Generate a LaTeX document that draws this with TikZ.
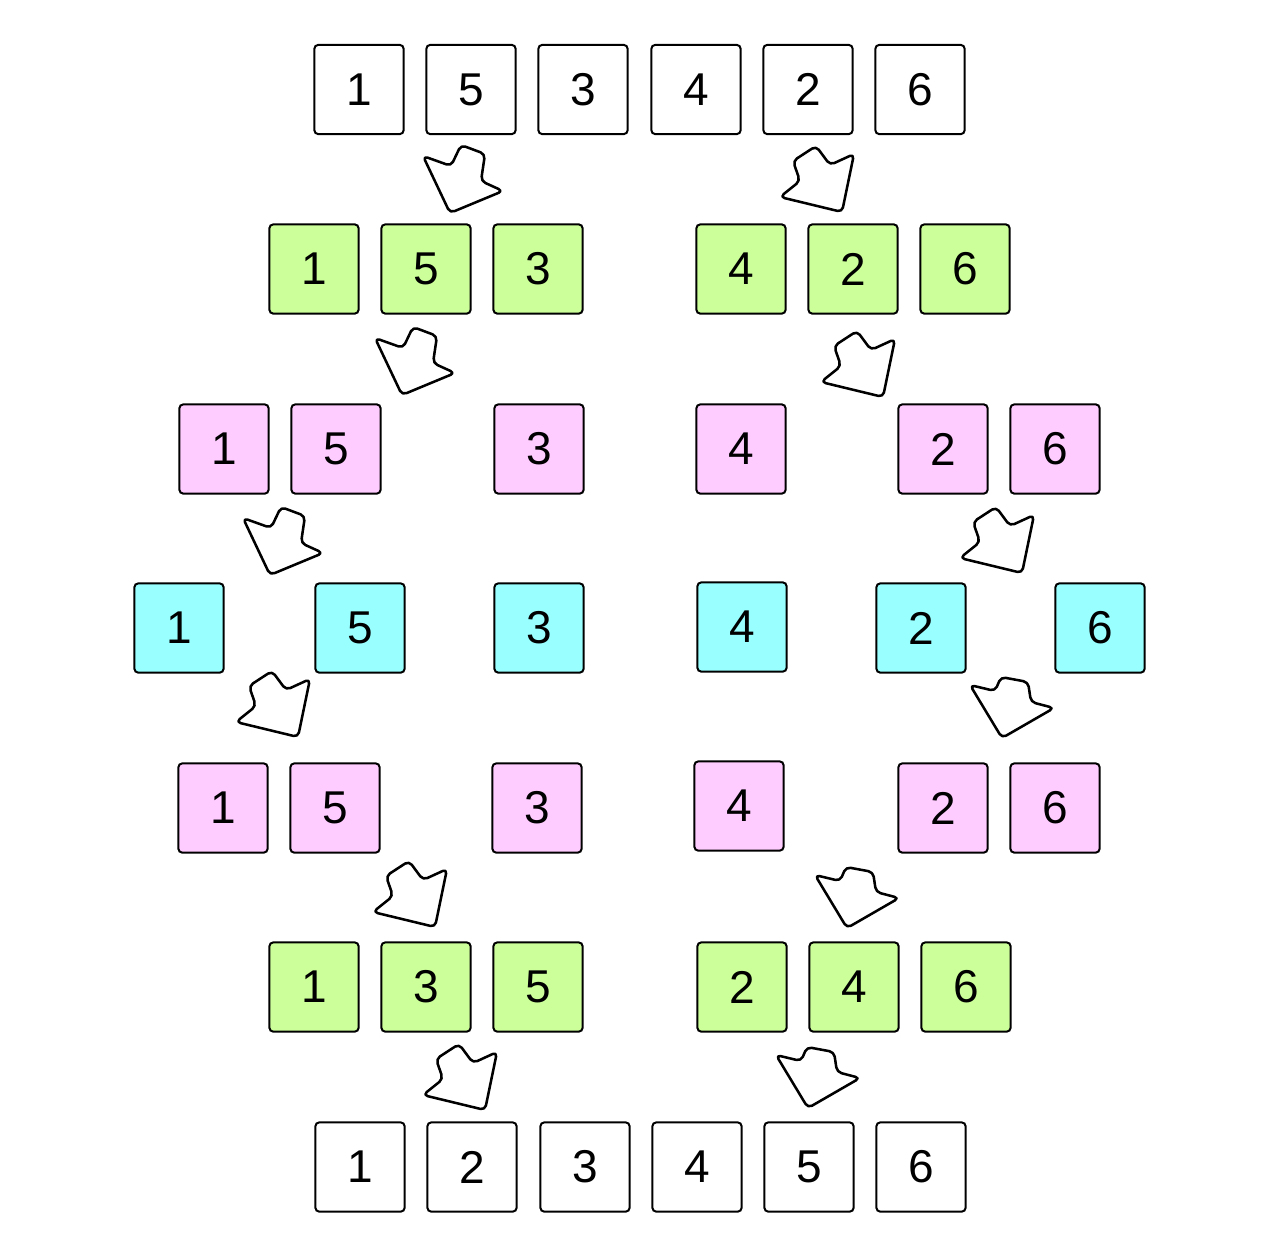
\documentclass[tikz,border=0pt]{standalone}
\usepackage{fontspec}
\setmainfont{Liberation Sans}
\definecolor{cgreen}{HTML}{CCFF99}
\definecolor{cpink}{HTML}{FFCCFF}
\definecolor{ccyan}{HTML}{99FFFF}
\begin{document}
\begin{tikzpicture}[x=0.75pt,y=-0.75pt,
  box/.style={draw, line width=1.5pt, rounded corners=3pt, minimum size=67pt, inner sep=0pt,
    font=\fontsize{34.5}{40}\selectfont},
  wbox/.style={box, fill=white},
  gbox/.style={box, fill=cgreen},
  pbox/.style={box, fill=cpink},
  cbox/.style={box, fill=ccyan},
  arr/.style={draw, fill=white, line width=1.9pt, rounded corners=3.5pt, line join=round},
  arrL/.pic={\path[arr] (-27,-57) -- (1,-47) -- (11,-68) -- (35,-59) -- (31,-32) -- (53,-22) -- (0,0) -- cycle;},
  arrR/.pic={\path[arr] (-62,-15) -- (-42,-31) -- (-49,-51) -- (-26,-66) -- (-12,-47) -- (12,-58) -- (0,0) -- cycle;},
  arrM/.pic={\path[arr] (-32,-53) -- (-7,-47) -- (-1,-61) -- (26,-56) -- (29,-36) -- (52,-30) -- (0,0) -- cycle;}
]
\useasboundingbox[fill=white] (0,0) rectangle (1280,1257);
% row 1
\node[wbox] (a1) at (359,89.5) {1};
\node[wbox] (a2) at (471,89.5) {5};
\node[wbox] (a3) at (583,89.5) {3};
\node[wbox] (a4) at (696,89.5) {4};
\node[wbox] (a5) at (808,89.5) {2};
\node[wbox] (a6) at (920,89.5) {6};
% row 2
\node[gbox] (b1) at (314,269) {1};
\node[gbox] (b2) at (426,269) {5};
\node[gbox] (b3) at (538,269) {3};
\node[gbox] (b4) at (741,269) {4};
\node[gbox] (b5) at (853,269) {2};
\node[gbox] (b6) at (965,269) {6};
% row 3
\node[pbox] (c1) at (224,449) {1};
\node[pbox] (c2) at (336,449) {5};
\node[pbox] (c3) at (539,449) {3};
\node[pbox] (c4) at (741,449) {4};
\node[pbox] (c5) at (943,449) {2};
\node[pbox] (c6) at (1055,449) {6};
% row 4
\node[cbox] (d1) at (179,628) {1};
\node[cbox] (d2) at (360,628) {5};
\node[cbox] (d3) at (539,628) {3};
\node[cbox] (d4) at (742,627) {4};
\node[cbox] (d5) at (921,628) {2};
\node[cbox] (d6) at (1100,628) {6};
% row 5
\node[pbox] (e1) at (223,808) {1};
\node[pbox] (e2) at (335,808) {5};
\node[pbox] (e3) at (537,808) {3};
\node[pbox] (e4) at (739,806) {4};
\node[pbox] (e5) at (943,808) {2};
\node[pbox] (e6) at (1055,808) {6};
% row 6
\node[gbox] (f1) at (314,987) {1};
\node[gbox] (f2) at (426,987) {3};
\node[gbox] (f3) at (538,987) {5};
\node[gbox] (f4) at (742,987) {2};
\node[gbox] (f5) at (854,987) {4};
\node[gbox] (f6) at (966,987) {6};
% row 7
\node[wbox] (g1) at (360,1167) {1};
\node[wbox] (g2) at (472,1167) {2};
\node[wbox] (g3) at (585,1167) {3};
\node[wbox] (g4) at (697,1167) {4};
\node[wbox] (g5) at (809,1167) {5};
\node[wbox] (g6) at (921,1167) {6};
% arrows
\pic at (450,213) {arrL};
\pic at (842,212) {arrR};
\pic at (402,395) {arrL};
\pic at (883,397) {arrR};
\pic at (270,575) {arrL};
\pic at (1022,573) {arrR};
\pic at (298,737) {arrR};
\pic at (1002,738) {arrM};
\pic at (435,927) {arrR};
\pic at (847,928) {arrM};
\pic at (485,1110) {arrR};
\pic at (808,1108) {arrM};
\end{tikzpicture}
\end{document}
